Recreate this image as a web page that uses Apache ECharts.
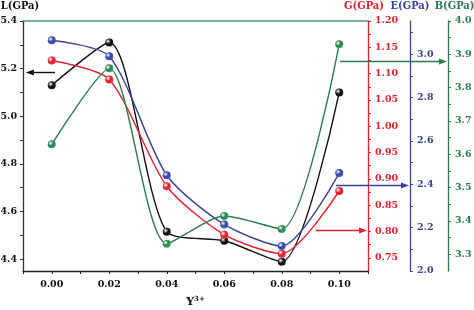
<!DOCTYPE html>
<html>
<head>
<meta charset="utf-8">
<script src="https://cdn.jsdelivr.net/npm/echarts@6/dist/echarts.min.js"></script>
<style>
  html, body { margin: 0; padding: 0; background: #fff; }
  #main { width: 474px; height: 310px; }
</style>
</head>
<body>
<div id="main"></div>
<script>
// x values (Y3+ content)
var xVals = [0.00, 0.02, 0.04, 0.06, 0.08, 0.10];

// moduli
var lVals = [5.13, 5.31, 4.515, 4.477, 4.389, 5.10];
var gVals = [1.125, 1.089, 0.886, 0.794, 0.758, 0.877];
var eVals = [3.065, 2.991, 2.442, 2.215, 2.115, 2.452];
var bVals = [3.630, 3.858, 3.332, 3.415, 3.376, 3.930];

// tick / label positions
var xTicks = [-0.01, 0.00, 0.01, 0.02, 0.03, 0.04, 0.05, 0.06, 0.07, 0.08, 0.09, 0.10, 0.11];
var xLabels = [0.00, 0.02, 0.04, 0.06, 0.08, 0.10];
var lTicks = [4.4, 4.5, 4.6, 4.7, 4.8, 4.9, 5.0, 5.1, 5.2, 5.3, 5.4];
var lLabels = [4.4, 4.6, 4.8, 5.0, 5.2, 5.4];
var gTicks = [0.75, 0.775, 0.8, 0.825, 0.85, 0.875, 0.9, 0.925, 0.95, 0.975, 1.0, 1.025, 1.05, 1.075, 1.1, 1.125, 1.15, 1.175, 1.2];
var gLabels = [0.75, 0.80, 0.85, 0.90, 0.95, 1.00, 1.05, 1.10, 1.15, 1.20];
var eTicks = [2.0, 2.1, 2.2, 2.3, 2.4, 2.5, 2.6, 2.7, 2.8, 2.9, 3.0, 3.1];
var eLabels = [2.0, 2.2, 2.4, 2.6, 2.8, 3.0];
var bTicks = [3.3, 3.35, 3.4, 3.45, 3.5, 3.55, 3.6, 3.65, 3.7, 3.75, 3.8, 3.85, 3.9, 3.95, 4.0];
var bLabels = [3.3, 3.4, 3.5, 3.6, 3.7, 3.8, 3.9, 4.0];

// arrows: [axis index, value, x start, x end(null = own axis)]
var arrowSpecs = [
    [0, 5.187, 0.0011, -0.009],
    [1, 0.803, 0.0918, null],
    [2, 2.395, 0.0988, null],
    [3, 3.880, 0.1003, null]
];

var colL = '#111111', colG = '#e0202a', colE = '#34449a', colB = '#2a7d4a';
var fontFam = 'DejaVu Serif';
var nameFam = 'DejaVu Serif Condensed, DejaVu Serif';

var chart = echarts.init(document.getElementById('main'), null, {renderer: 'canvas'});

function pairs(ys) {
    return xVals.map(function (x, i) { return [x, ys[i]]; });
}

function ball(c) {
    return {
        type: 'radial', x: 0.35, y: 0.35, r: 0.75,
        colorStops: [
            {offset: 0, color: '#ffffff'},
            {offset: 0.45, color: c},
            {offset: 1, color: echarts.color.lift(c, -0.4)}
        ]
    };
}

function yAx(name, c, min, max, ticks, labels, pos, offset, dec) {
    return {
        type: 'value', name: name, position: pos, offset: offset,
        min: min, max: max,
        nameLocation: 'end', nameGap: 9,
        nameTextStyle: {color: c, fontFamily: nameFam, fontWeight: 'bold', fontSize: 11, align: 'center'},
        axisLine: {show: true, onZero: false, lineStyle: {color: c, width: 1.3}},
        axisTick: {show: true, inside: false, length: 3, customValues: ticks, lineStyle: {color: c}},
        axisLabel: {
            customValues: labels, color: c, fontFamily: fontFam, fontWeight: 'bold', fontSize: 9.5, margin: 7,
            formatter: function (v) { return v.toFixed(dec); }
        },
        splitLine: {show: false}
    };
}

function series(name, ys, c, yi) {
    return {
        name: name, type: 'line', yAxisIndex: yi, data: pairs(ys),
        smooth: 0.25, symbol: 'circle', symbolSize: 8,
        lineStyle: {color: c, width: 1.4},
        itemStyle: {color: ball(c)},
        z: 3
    };
}

var option = {
    backgroundColor: '#ffffff',
    animation: false,
    grid: {left: 23, right: 106, top: 21, bottom: 39, outerBoundsMode: 'none', containLabel: false},
    xAxis: [{
        type: 'value', min: -0.01, max: 0.11,
        name: 'Y{s|3+}', nameLocation: 'middle', nameGap: 25,
        nameTextStyle: {color: '#111', fontFamily: fontFam, fontWeight: 'bold', fontSize: 11,
            rich: {s: {fontSize: 7, fontFamily: fontFam, fontWeight: 'bold', verticalAlign: 'top', padding: [0, 0, 6, 0]}}},
        axisLine: {show: true, onZero: false, lineStyle: {color: '#222', width: 1.3}},
        axisTick: {show: true, length: 3, customValues: xTicks, lineStyle: {color: '#222'}},
        axisLabel: {customValues: xLabels, color: '#111', fontFamily: fontFam, fontWeight: 'bold', fontSize: 9.5, margin: 9,
            formatter: function (v) { return v.toFixed(2); }},
        splitLine: {show: false}
    }, {
        type: 'value', position: 'top', min: -0.01, max: 0.11,
        axisLine: {show: true, onZero: false, lineStyle: {color: '#4f9a78', width: 1.6}},
        axisTick: {show: false}, axisLabel: {show: false}, splitLine: {show: false}
    }],
    yAxis: [
        yAx('L(GPa)', colL, 4.35, 5.4, lTicks, lLabels, 'left', 0, 1),
        yAx('G(GPa)', colG, 0.725, 1.2, gTicks, gLabels, 'right', 0, 2),
        yAx('E(GPa)', colE, 2.0, 3.154, eTicks, eLabels, 'right', 42, 1),
        yAx('B(GPa)', colB, 3.25, 4.0, bTicks, bLabels, 'right', 80, 1)
    ],
    series: [
        series('L', lVals, colL, 0),
        series('G', gVals, colG, 1),
        series('E', eVals, colE, 2),
        series('B', bVals, colB, 3)
    ]
};
option.yAxis[0].axisLine.lineStyle.color = '#333';
option.yAxis[0].axisTick.lineStyle.color = '#333';
option.yAxis[0].axisLabel.margin = 6;
option.yAxis[0].nameTextStyle.padding = [0, 6, 0, 0];
option.yAxis[1].nameTextStyle.padding = [0, 8, 0, 0];
option.yAxis[2].nameTextStyle.padding = [0, 0, 0, 0];
option.yAxis[3].nameTextStyle.padding = [0, 0, 0, 13];

chart.setOption(option);

// arrows drawn from axis scales
var axisOffsets = [0, 0, 42, 80];
var cols = [colL, colG, colE, colB];
var graphics = [];
var rightPx = chart.convertToPixel({xAxisIndex: 0}, 0.11);
arrowSpecs.forEach(function (a) {
    var yi = a[0];
    var p0 = chart.convertToPixel({xAxisIndex: 0, yAxisIndex: yi}, [a[2], a[1]]);
    var xEnd = a[3] === null ? rightPx + axisOffsets[yi] - 1 : chart.convertToPixel({xAxisIndex: 0}, a[3]);
    var y = Math.round(p0[1]) + 0.5;
    var dir = xEnd > p0[0] ? 1 : -1;
    var headLen = 8, headW = 3;
    graphics.push({
        type: 'line', z: 10,
        shape: {x1: p0[0], y1: y, x2: xEnd - dir * headLen, y2: y},
        style: {stroke: cols[yi], lineWidth: 1.4}
    });
    graphics.push({
        type: 'polygon', z: 10,
        shape: {points: [[xEnd, y], [xEnd - dir * headLen, y - headW], [xEnd - dir * headLen, y + headW]]},
        style: {fill: cols[yi]}
    });
});
chart.setOption({graphic: graphics});
</script>
</body>
</html>
